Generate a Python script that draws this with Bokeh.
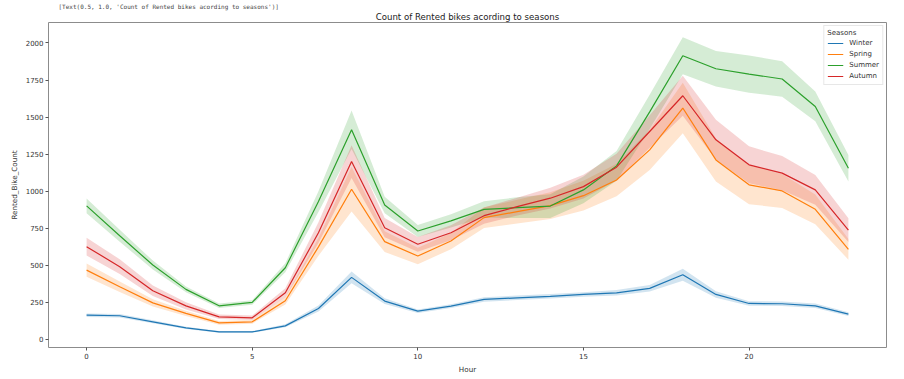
from bokeh.plotting import figure
from bokeh.models import Range1d, Legend, LegendItem, FixedTicker, ColumnDataSource, Title
from bokeh.embed import file_html
from bokeh.resources import INLINE

hours = list(range(24))
seasons = ["Winter", "Spring", "Summer", "Autumn"]
colors = ["#1f77b4", "#ff7f0e", "#2ca02c", "#d62728"]

winter = [164, 160, 119, 78, 51, 51, 92, 209, 419, 259, 191, 225, 270, 281, 291, 304, 315, 345, 437, 304, 243, 241, 227, 171]
spring = [468, 356, 247, 176, 112, 119, 261, 625, 1013, 660, 563, 664, 822, 862, 903, 970, 1076, 1279, 1561, 1211, 1043, 1002, 878, 608]
summer = [901, 700, 502, 338, 227, 250, 484, 930, 1414, 907, 732, 800, 878, 889, 900, 1009, 1171, 1535, 1914, 1826, 1790, 1757, 1572, 1155]
autumn = [626, 491, 329, 227, 153, 146, 315, 720, 1200, 754, 642, 720, 835, 896, 953, 1031, 1162, 1403, 1644, 1347, 1178, 1122, 1009, 738]

winter_ci = [12, 12, 10, 8, 6, 6, 10, 20, 40, 20, 12, 12, 15, 15, 15, 15, 18, 22, 40, 22, 15, 15, 15, 12]
spring_ci = [45, 35, 25, 18, 12, 12, 25, 60, 150, 70, 55, 55, 70, 80, 90, 100, 110, 135, 170, 145, 130, 115, 100, 70]
summer_ci = [50, 40, 30, 20, 15, 15, 30, 70, 130, 55, 40, 45, 55, 70, 80, 90, 100, 115, 125, 120, 125, 120, 100, 90]
autumn_ci = [60, 50, 35, 25, 15, 15, 30, 70, 110, 65, 50, 50, 55, 60, 70, 80, 90, 110, 135, 135, 125, 115, 100, 80]

x_ticks = [0, 5, 10, 15, 20]
y_ticks = [0, 250, 500, 750, 1000, 1250, 1500, 1750, 2000]

title_text = "Count of Rented bikes acording to seasons"
cell_output = "[Text(0.5, 1.0, 'Count of Rented bikes acording to seasons')]"

means = [winter, spring, summer, autumn]
cis = [winter_ci, spring_ci, summer_ci, autumn_ci]

FONT = "DejaVu Sans"

p = figure(width=896, height=379, x_range=Range1d(-1.15, 24.15), y_range=Range1d(-54, 2138),
           output_backend="svg", toolbar_location=None,
           min_border_left=48, min_border_right=10, min_border_top=0, min_border_bottom=32,
           title=cell_output)
# outermost title: the notebook cell output line above the chart
p.title.align = "left"
p.title.offset = 10
p.title.text_font = "DejaVu Sans Mono"
p.title.text_font_size = "6px"
p.title.text_font_style = "normal"
p.title.text_color = "#444444"
p.title.standoff = 0

# chart title, closer to the frame
main_title = Title(text=title_text, align="center", text_font=FONT, text_font_size="8.6px",
                   text_font_style="normal", text_color="#222222", standoff=1)
p.add_layout(main_title, "above")

p.grid.visible = False
p.outline_line_color = "#8c8c8c"
p.outline_line_width = 1

for ax in (p.xaxis[0], p.yaxis[0]):
    ax.axis_line_color = None
    ax.major_tick_line_color = "#555555"
    ax.major_tick_in = 0
    ax.major_tick_out = 3
    ax.minor_tick_line_color = None
    ax.major_label_text_font = FONT
    ax.major_label_text_font_size = "7px"
    ax.major_label_text_color = "#333333"
    ax.axis_label_text_font = FONT
    ax.axis_label_text_font_size = "7.2px"
    ax.axis_label_text_font_style = "normal"
    ax.axis_label_text_color = "#333333"
    ax.major_label_standoff = 2

p.xaxis.ticker = FixedTicker(ticks=x_ticks)
p.yaxis.ticker = FixedTicker(ticks=y_ticks)
p.xaxis.axis_label = "Hour"
p.yaxis.axis_label = "Rented_Bike_Count"
p.xaxis.axis_label_standoff = 3
p.yaxis.axis_label_standoff = 4

srcs = []
for m, c in zip(means, cis):
    srcs.append(ColumnDataSource(dict(x=hours, y=m,
                                      lo=[a - b for a, b in zip(m, c)],
                                      hi=[a + b for a, b in zip(m, c)])))

for src, col in zip(srcs, colors):
    p.varea(x="x", y1="lo", y2="hi", source=src, fill_color=col, fill_alpha=0.2)

items = []
for src, col, name in zip(srcs, colors, seasons):
    r = p.line(x="x", y="y", source=src, line_color=col, line_width=1.2)
    items.append(LegendItem(label=name, renderers=[r]))

legend = Legend(items=items, title="Seasons", location="top_right")
legend.title_text_font = FONT
legend.title_text_font_size = "7px"
legend.title_text_font_style = "normal"
legend.title_text_color = "#333333"
legend.title_standoff = 1
legend.label_text_font = FONT
legend.label_text_font_size = "7px"
legend.label_text_color = "#333333"
legend.glyph_width = 16
legend.glyph_height = 10
legend.label_height = 10
legend.label_standoff = 6
legend.spacing = 1
legend.padding = 3
legend.margin = 3
legend.border_line_color = "#d0d0d0"
legend.border_line_width = 1
legend.background_fill_alpha = 0.8
p.add_layout(legend)

open("out.html", "w").write(file_html(p, INLINE))
